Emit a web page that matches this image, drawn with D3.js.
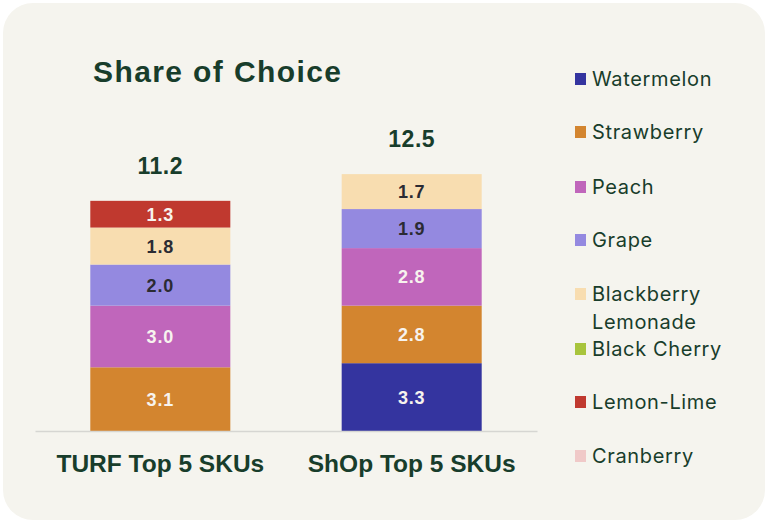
<!DOCTYPE html>
<html>
<head>
<meta charset="utf-8">
<script src="https://cdn.jsdelivr.net/npm/d3@7"></script>
<style>
  html, body { margin: 0; padding: 0; background: #ffffff; }
  svg { display: block; }
</style>
</head>
<body>
<div id="chart"></div>
<script>
const categories = ["TURF Top 5 SKUs", "ShOp Top 5 SKUs"];
const flavours = ["Watermelon", "Strawberry", "Peach", "Grape", "Blackberry Lemonade", "Black Cherry", "Lemon-Lime", "Cranberry"];
const flavourColors = ["#34349f", "#d3852f", "#c066bb", "#9489e0", "#f8ddb0", "#a8c43c", "#c0392f", "#f0c9c8"];
// share of choice per flavour, one value per category
const watermelon = [0, 3.3];
const strawberry = [3.1, 2.8];
const peach = [3.0, 2.8];
const grape = [2.0, 1.9];
const blackberryLemonade = [1.8, 1.7];
const blackCherry = [0, 0];
const lemonLime = [1.3, 0];
const cranberry = [0, 0];
const totals = [11.2, 12.5];

const seriesValues = [watermelon, strawberry, peach, grape, blackberryLemonade, blackCherry, lemonLime, cranberry];
const lightLabel = new Set(["Grape", "Blackberry Lemonade", "Cranberry"]);

const width = 768, height = 523;
const svg = d3.select("#chart").append("svg")
    .attr("width", width)
    .attr("height", height);

// card background
svg.append("rect")
    .attr("x", 3).attr("y", 3)
    .attr("width", width - 6).attr("height", height - 6)
    .attr("rx", 30)
    .attr("fill", "#f5f4ee");

const fontMain = "'Liberation Sans', Arial, sans-serif";
const green = "#183d2b";

svg.append("text")
    .attr("x", 93).attr("y", 82)
    .attr("font-family", fontMain)
    .attr("font-weight", 700)
    .attr("font-size", 30)
    .attr("letter-spacing", 1.4)
    .attr("fill", green)
    .text("Share of Choice");

// table for stacking
const table = categories.map((c, i) => {
    const row = { category: c };
    flavours.forEach((f, j) => { row[f] = seriesValues[j][i]; });
    return row;
});
const stacked = d3.stack().keys(flavours)(table);

const x = d3.scaleBand()
    .domain(categories)
    .range([35, 537])
    .paddingInner(0.443)
    .paddingOuter(0.22);

const y = d3.scaleLinear()
    .domain([0, 14])
    .range([431, 431 - 14 * 20.55]);

const color = d3.scaleOrdinal().domain(flavours).range(flavourColors);

const layers = svg.append("g").selectAll("g")
    .data(stacked)
    .enter().append("g")
    .attr("fill", d => color(d.key));

layers.selectAll("rect")
    .data(d => d.map(v => ({ key: d.key, v })))
    .enter().append("rect")
    .filter(d => d.v[1] - d.v[0] > 0)
    .attr("x", d => x(d.v.data.category))
    .attr("width", x.bandwidth())
    .attr("y", d => y(d.v[1]))
    .attr("height", d => y(d.v[0]) - y(d.v[1]));

layers.selectAll("text")
    .data(d => d.map(v => ({ key: d.key, v })).filter(e => e.v[1] - e.v[0] > 0))
    .enter().append("text")
    .attr("x", d => x(d.v.data.category) + x.bandwidth() / 2)
    .attr("y", d => y((d.v[0] + d.v[1]) / 2))
    .attr("dy", "0.36em")
    .attr("text-anchor", "middle")
    .attr("font-family", fontMain)
    .attr("font-weight", 700)
    .attr("font-size", 18)
    .attr("letter-spacing", 0.8)
    .attr("fill", d => lightLabel.has(d.key) ? "#2b2b33" : "#f7f3ee")
    .text(d => (d.v[1] - d.v[0]).toFixed(1));

// totals
svg.append("g").selectAll("text")
    .data(categories)
    .enter().append("text")
    .attr("x", d => x(d) + x.bandwidth() / 2)
    .attr("y", (d, i) => y(totals[i]) - 35)
    .attr("dy", "0.36em")
    .attr("text-anchor", "middle")
    .attr("font-family", fontMain)
    .attr("font-weight", 700)
    .attr("font-size", 23)
    .attr("letter-spacing", 0.5)
    .attr("fill", green)
    .text((d, i) => totals[i].toFixed(1));

// baseline + category axis
const axis = svg.append("g")
    .attr("transform", `translate(0,${y(0)})`)
    .call(d3.axisBottom(x).tickSize(0).tickPadding(24));
axis.select(".domain").attr("stroke", "#d6d6d2").attr("stroke-width", 1.5);
axis.selectAll("text")
    .attr("font-family", fontMain)
    .attr("font-weight", 700)
    .attr("font-size", 24.5)
    .attr("fill", green);

// legend
const legend = svg.append("g").attr("transform", "translate(575,0)");
const legendY = [79, 132, 187, 240, 294, 349, 402, 456];
flavours.forEach((f, i) => {
    const g = legend.append("g").attr("transform", `translate(0,${legendY[i]})`);
    g.append("rect")
        .attr("x", 0).attr("y", -6)
        .attr("width", 11).attr("height", 12)
        .attr("fill", color(f));
    const words = f === "Blackberry Lemonade" ? ["Blackberry", "Lemonade"] : [f];
    words.forEach((w, k) => {
        g.append("text")
            .attr("x", 17)
            .attr("y", k * 27.5)
            .attr("dy", "0.36em")
            .attr("font-family", "Inter, sans-serif")
            .attr("font-size", 20)
            .attr("letter-spacing", 0.65)
            .attr("fill", green)
            .text(w);
    });
});
</script>
</body>
</html>
